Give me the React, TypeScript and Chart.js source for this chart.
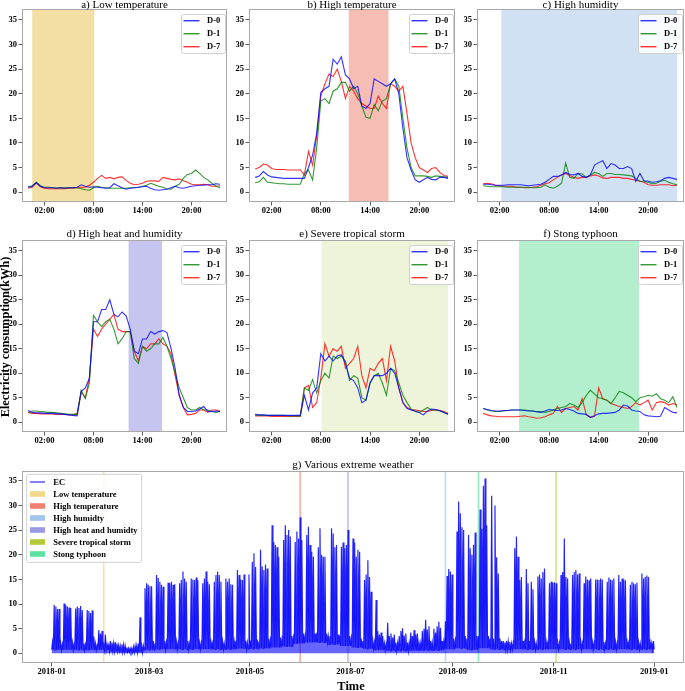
import React, { useEffect, useRef } from "react";
import { Chart, registerables } from "chart.js";

Chart.register(...registerables);

// ---------------- data: small panels (half-hour samples) ----------------
const HOURS: number[] = Array.from({ length: 48 }, (_, i) => i * 0.5);
const HOUR_TICKS = [2, 8, 14, 20];
const Y_TICKS = [0, 5, 10, 15, 20, 25, 30, 35];
const SERIES_LABELS = ["D-0", "D-1", "D-7"];

const A_D0 = [1.0,1.2,1.9,1.2,0.9,0.9,0.9,0.8,0.9,0.8,0.9,0.9, 1.0,1.5,1.2,1.0,1.1,1.0,0.9,0.8,0.9,1.7,1.3,0.9, 0.6,0.8,0.9,1.0,1.1,1.2,0.8,0.5,0.4,0.5,0.6,0.9, 1.2,0.9,0.8,1.0,1.2,1.3,1.4,1.4,1.5,1.5,1.7,1.6];
const A_D1 = [1.1,1.3,2.0,1.3,1.0,1.0,0.9,0.9,0.9,0.9,0.9,0.9, 0.9,0.7,0.5,0.4,0.9,1.2,1.0,0.9,0.8,0.8,0.8,0.8, 0.8,0.9,0.9,1.0,1.2,1.4,1.8,1.5,1.2,1.0,0.7,0.6, 1.2,1.6,2.8,3.6,3.8,4.5,3.8,3.0,2.5,1.8,1.2,0.9];
const A_D7 = [0.8,1.0,1.9,1.1,0.8,0.7,0.7,0.7,0.7,0.7,0.8,0.8, 0.9,1.0,1.0,1.4,2.0,2.8,3.4,2.8,3.0,2.7,3.0,3.1, 2.4,1.8,1.5,1.6,1.8,2.2,2.3,2.3,2.2,3.0,2.8,2.6, 2.5,2.7,2.3,2.0,1.6,1.5,1.5,1.6,1.5,1.2,1.2,1.3];

const B_D0 = [3.0,3.3,4.2,3.5,3.1,3.0,2.9,2.8,2.8,2.8,2.8,2.8, 2.8,5.0,7.5,12.0,20.3,21.0,21.5,27.0,26.0,27.5,23.8,23.0, 21.0,21.5,17.5,17.0,18.0,23.0,22.5,22.0,21.5,22.0,23.0,20.0, 13.0,7.0,4.5,2.5,2.0,2.5,3.0,2.6,2.5,3.0,3.0,2.8];
const B_D1 = [1.9,2.1,3.0,2.0,1.9,1.8,1.7,1.7,1.6,1.6,1.6,1.6, 3.8,4.5,2.5,9.0,18.5,19.0,18.0,20.5,21.0,22.3,22.3,20.5, 21.5,20.0,17.5,15.2,15.0,17.8,16.5,18.5,19.0,22.0,23.0,21.5, 15.0,9.0,5.0,3.3,3.3,3.3,3.2,3.0,3.3,3.2,3.1,3.0];
const B_D7 = [4.7,5.0,5.7,5.5,4.8,4.6,4.6,4.6,4.5,4.5,4.5,4.5, 3.5,8.3,5.5,11.5,19.5,22.0,24.0,23.5,25.0,22.5,19.0,21.5, 20.5,19.0,18.0,17.5,17.0,17.0,19.5,18.0,17.0,22.0,21.5,20.5, 21.5,16.0,10.0,7.0,5.0,4.5,4.0,4.8,5.0,4.0,3.4,3.2];

const C_D0 = [1.6,1.6,1.5,1.4,1.4,1.4,1.5,1.5,1.5,1.5,1.4,1.3, 1.4,1.5,1.6,2.0,2.6,3.2,3.2,3.5,4.0,3.6,3.5,3.8, 3.2,3.0,3.5,5.5,6.0,6.4,4.8,5.8,5.5,4.8,4.8,5.2, 4.8,2.2,3.8,2.3,2.2,2.0,2.1,2.3,2.8,3.0,2.8,2.6];
const C_D1 = [1.3,1.2,1.1,1.1,1.1,1.1,1.0,1.0,1.0,1.0,1.0,1.0, 0.9,0.9,1.0,1.5,1.0,0.8,1.2,1.8,5.9,3.0,2.8,3.8, 3.7,3.0,3.5,4.0,3.8,3.2,3.8,3.8,3.6,3.6,3.5,3.4, 3.3,2.8,2.2,2.2,2.0,1.7,1.8,2.2,2.4,2.0,1.7,1.5];
const C_D7 = [1.7,1.8,1.7,1.4,1.3,1.2,1.2,1.2,1.0,1.0,0.9,0.9, 1.0,1.1,1.4,1.7,1.9,2.5,3.0,3.5,3.8,3.4,3.0,2.8, 3.0,3.0,3.3,3.5,3.3,2.9,2.8,3.0,3.0,3.0,2.8,2.8, 2.6,2.4,2.2,2.0,1.5,1.4,1.4,1.5,1.5,1.5,1.3,1.4];

const D_D0 = [2.4,2.0,1.9,1.9,1.8,1.8,1.8,1.7,1.7,1.6,1.5,1.4, 1.3,6.3,7.0,9.0,20.5,20.5,23.0,23.0,25.0,22.0,21.5,22.5, 21.7,19.0,14.5,14.0,17.0,17.0,18.5,18.0,18.5,18.7,18.3,15.0, 11.0,5.5,3.0,2.2,2.2,2.3,2.7,3.2,2.2,2.2,2.3,2.2];
const D_D1 = [2.0,2.3,2.3,2.2,2.1,2.0,2.0,1.9,1.8,1.7,1.6,1.6, 1.6,6.5,4.8,8.0,21.8,20.5,19.5,20.5,21.0,19.0,16.0,17.0, 18.5,18.5,13.0,12.0,15.5,14.5,15.0,16.0,16.0,17.3,15.5,13.0, 10.0,7.0,5.0,3.0,2.5,2.5,3.0,2.5,2.5,2.2,2.0,2.2];
const D_D7 = [2.0,1.8,1.8,1.7,1.7,1.7,1.7,1.6,1.6,1.6,1.5,1.5, 1.8,6.2,5.0,9.0,19.0,17.5,19.0,20.0,21.0,22.0,19.0,18.5, 18.5,18.5,14.5,12.5,15.5,15.0,16.0,16.0,17.0,16.0,15.5,14.0, 9.5,5.5,3.0,1.5,1.6,1.8,2.5,2.5,2.0,2.5,2.5,2.3];

const E_D0 = [1.6,1.5,1.5,1.4,1.4,1.4,1.4,1.4,1.4,1.4,1.4,1.4, 5.5,2.5,6.0,7.0,14.0,12.5,13.5,12.5,13.5,13.8,12.0,9.0, 8.5,7.0,4.0,4.5,8.0,9.5,9.5,9.5,10.0,11.0,10.0,7.0, 4.0,2.8,2.5,2.3,2.0,1.5,2.3,2.7,2.6,2.4,2.0,1.6];
const E_D1 = [1.5,1.4,1.4,1.4,1.4,1.4,1.4,1.4,1.3,1.3,1.3,1.3, 7.0,6.5,8.7,6.0,8.5,10.0,9.0,13.5,13.0,13.5,12.5,8.5, 9.5,9.0,5.0,4.5,8.0,9.5,10.0,8.0,5.5,11.0,10.5,8.0, 5.5,4.0,2.7,2.2,2.0,2.5,3.0,2.5,2.5,2.3,2.0,1.6];
const E_D7 = [1.3,1.3,1.3,1.3,1.2,1.2,1.2,1.2,1.2,1.2,1.2,1.2, 7.0,7.5,3.0,4.0,9.0,16.0,13.5,15.0,14.5,15.5,11.0,12.0, 13.0,15.5,9.5,7.0,11.0,10.5,12.0,13.0,8.5,15.5,12.5,7.0, 4.0,3.0,2.6,2.5,2.4,2.2,2.2,2.4,2.5,2.4,2.2,1.8];

const F_D0 = [2.8,2.6,2.4,2.3,2.3,2.4,2.4,2.5,2.5,2.5,2.4,2.3, 2.3,2.1,2.0,2.3,2.6,2.5,2.4,2.5,2.8,2.6,2.3,1.8, 1.7,1.6,1.0,1.3,1.7,1.8,1.8,1.9,2.0,2.5,3.5,3.3, 2.5,2.3,2.2,1.5,1.3,1.2,1.1,1.2,3.0,2.5,2.0,1.9];
const F_D1 = [2.8,2.5,2.3,2.2,2.2,2.3,2.4,2.5,2.5,2.5,2.5,2.4, 2.3,2.2,2.2,2.0,2.2,2.5,2.8,3.0,3.2,3.8,3.5,3.0, 4.0,5.5,6.5,5.8,5.0,4.8,4.5,3.8,5.0,6.3,6.0,5.5, 5.0,4.2,5.0,5.2,5.5,5.3,5.8,4.8,4.5,4.0,5.2,3.0];
const F_D7 = [1.8,1.5,1.3,1.2,1.1,1.1,1.1,1.1,1.1,1.2,1.3,1.1, 1.0,0.8,0.9,1.1,1.5,1.8,3.2,2.0,2.8,3.0,3.2,2.5, 4.8,1.5,1.0,1.2,7.0,4.8,4.5,3.8,3.5,3.2,3.0,2.8, 3.2,4.0,3.5,4.0,4.5,2.5,4.0,4.2,4.0,3.5,3.8,3.5];

const PANEL_TITLES = [
  "a) Low temperature",
  "b) High temperature",
  "c) High humidity",
  "d) High heat and humidity",
  "e) Severe tropical storm",
  "f) Stong typhoon",
];
const PANEL_SERIES = [
  [A_D0, A_D1, A_D7],
  [B_D0, B_D1, B_D7],
  [C_D0, C_D1, C_D7],
  [D_D0, D_D1, D_D7],
  [E_D0, E_D1, E_D7],
  [F_D0, F_D1, F_D7],
];
const PANEL_SPAN_FROM = [0.5, 11.4, 2.2, 12.3, 8.1, 4.35];
const PANEL_SPAN_TO = [8.1, 16.25, 23.5, 16.4, 23.5, 18.9];

// ---------------- data: g) whole year (daily min / daily peak) ----------------
const EVENT_NAMES = [
  "Low temperature",
  "High temperature",
  "High humidty",
  "High heat and humidty",
  "Severe tropical storm",
  "Stong typhoon",
];
const EVENT_DAYS = [31, 150, 238, 179, 305, 258];
const MONTH_TICK_DAYS = [0, 59, 120, 181, 243, 304, 365];
const MONTH_TICK_LABELS = ["2018-01", "2018-03", "2018-05", "2018-07", "2018-09", "2018-11", "2019-01"];

const WEEK_BASE = [
  0.7, 0.7, 0.7, 0.7, 0.7, 0.5, 0.3, 0.2,
  0.7, 0.8, 0.8, 0.8, 0.8,
  0.8, 0.8, 0.8, 0.9, 0.9,
  1.0, 1.2, 1.4,
  2.0, 2.2, 2.2, 1.8, 1.5,
  1.2, 0.9,
  0.6, 0.5, 0.5, 0.5, 0.6, 0.6,
  0.8, 1.0, 0.7, 1.0, 0.8,
  0.8,
  0.8, 0.8, 0.8, 0.8, 0.8, 0.8, 0.8, 0.8, 0.8, 0.8, 0.8, 0.8, 0.8,
];

const DAILY_PEAK = [
  2.3, 9.8, 9.5, 9.0, 9.0, 2.0, 1.8,
  10.1, 9.8, 9.5, 9.3, 9.2, 2.2, 1.8,
  9.1, 9.5, 9.2, 9.6, 8.8, 2.0, 1.8,
  8.8, 8.6, 8.2, 8.7, 3.4, 2.0, 1.6,
  4.7, 4.0, 4.5, 1.7, 3.8, 1.8, 1.6,
  2.5, 2.2, 2.0, 2.3, 2.0, 1.6, 1.5,
  1.8, 1.7, 1.5, 1.2, 1.0, 1.0, 1.0,
  1.3, 1.5, 1.5, 2.0, 7.3, 1.5, 1.6,
  13.2, 14.2, 13.9, 13.6, 13.6, 2.5, 2.0,
  15.9, 15.3, 14.5, 13.9, 13.5, 2.5, 2.2,
  14.3, 14.2, 14.5, 13.9, 14.0, 2.4, 2.0,
  14.2, 14.9, 16.6, 15.2, 14.5, 2.5, 2.0,
  15.2, 15.0, 14.9, 15.4, 14.8, 2.2, 2.0,
  14.2, 15.2, 16.6, 14.5, 14.0, 2.2, 2.0,
  14.5, 15.9, 16.6, 15.9, 14.5, 2.4, 2.0,
  15.2, 14.5, 15.2, 14.0, 13.9, 2.4, 2.0,
  16.9, 15.9, 15.0, 14.9, 16.0, 2.6, 2.2,
  16.0, 2.6, 18.6, 20.3, 17.5, 2.8, 2.4,
  21.0, 17.6, 16.9, 18.0, 17.2, 3.0, 2.6,
  26.0, 22.6, 22.0, 21.5, 19.6, 3.2, 2.8,
  23.0, 26.0, 24.0, 25.0, 23.7, 3.5, 3.2,
  22.6, 24.7, 23.3, 27.6, 23.0, 4.0, 3.5,
  24.0, 25.7, 22.0, 20.6, 19.6, 4.0, 3.5,
  21.5, 25.4, 20.0, 19.6, 19.6, 4.0, 3.5,
  3.5, 25.4, 24.3, 21.5, 22.0, 3.8, 3.5,
  21.6, 22.5, 21.3, 22.0, 25.0, 3.5, 3.0,
  23.3, 22.5, 19.6, 21.0, 20.6, 3.0, 2.5,
  14.9, 16.0, 18.9, 15.5, 12.5, 2.5, 2.2,
  10.8, 4.5, 3.8, 4.2, 3.5, 2.0, 1.8,
  6.2, 3.5, 4.0, 3.2, 3.8, 2.2, 2.0,
  3.5, 4.5, 5.1, 3.6, 4.0, 2.2, 2.0,
  4.2, 3.5, 4.7, 3.8, 4.0, 2.0, 2.0,
  4.5, 5.0, 6.8, 4.8, 5.5, 2.5, 2.2,
  5.0, 4.2, 5.5, 6.4, 5.2, 2.5, 2.3,
  6.5, 15.7, 17.1, 16.6, 16.0, 3.0, 2.5,
  24.7, 30.8, 28.4, 25.6, 25.0, 3.5, 3.0,
  24.0, 21.3, 20.0, 22.0, 24.5, 3.5, 3.5,
  29.2, 25.3, 34.0, 35.5, 26.0, 3.5, 3.0,
  32.0, 3.0, 30.0, 19.5, 16.2, 3.0, 2.5,
  2.5, 2.2, 2.5, 2.4, 2.3, 2.0, 2.0,
  21.3, 23.7, 19.6, 14.9, 15.5, 2.5, 2.2,
  17.1, 14.2, 2.5, 14.5, 13.0, 2.3, 2.0,
  15.6, 16.0, 15.2, 16.5, 17.2, 2.3, 2.0,
  14.2, 14.5, 14.3, 14.4, 14.2, 2.2, 2.0,
  15.9, 16.5, 23.3, 15.5, 15.2, 2.3, 2.0,
  15.9, 16.5, 16.9, 16.0, 16.2, 2.3, 2.0,
  14.2, 15.6, 15.0, 14.8, 15.2, 2.3, 2.0,
  15.0, 15.0, 14.9, 15.2, 15.0, 2.3, 2.0,
  14.5, 15.4, 15.0, 14.8, 15.2, 2.3, 2.0,
  15.9, 14.5, 15.2, 15.0, 14.8, 2.3, 2.0,
  13.9, 14.5, 14.2, 14.0, 14.3, 2.2, 2.0,
  16.2, 15.2, 15.5, 15.8, 15.5, 2.2, 2.0,
  2.5,
];

// ---------------- styles / layout ----------------
const SERIF = '"Liberation Serif", "DejaVu Serif", serif';
const SERIES_COLORS = ["rgba(0,0,255,0.8)", "rgba(0,128,0,0.8)", "rgba(255,0,0,0.8)"];
const PANEL_SPAN_COLORS = ["#f3dea3", "#f6bdb5", "#cfe1f2", "#c5c5f0", "#eef4da", "#b3efcc"];
const EVENT_COLORS = ["#f2d88a", "#f08070", "#a0c4ea", "#9898e6", "#b5c93a", "#5ee0a0"];
const EVENT_LINE_COLORS = [
  "rgba(238,204,110,0.6)",
  "rgba(240,120,105,0.6)",
  "rgba(150,190,230,0.6)",
  "rgba(150,150,225,0.6)",
  "rgba(185,205,60,0.6)",
  "rgba(80,220,150,0.6)",
];
const EC_COLOR = "rgba(0,0,255,0.85)";
const EC_FILL = "rgba(0,0,255,0.6)";

const PAD_L = 22;
const PAD_T = 12;
const PAD_R = 2;
const TICK_FONT = { family: SERIF, size: 8.5, weight: "bold" as const };

type Box = { l: number; t: number; r: number; b: number };
const PANEL_BOXES: Box[] = [
  { l: 22, t: 9, r: 227, b: 202 },
  { l: 249, t: 9, r: 455, b: 202 },
  { l: 477, t: 9, r: 684, b: 202 },
  { l: 22, t: 240, r: 227, b: 432 },
  { l: 249, t: 240, r: 455, b: 432 },
  { l: 477, t: 240, r: 684, b: 432 },
];
const PANEL_TITLE_GAP = [1.4, 1.4, 1.4, 2.7, 2.7, 2.7];
const G_BOX: Box = { l: 22, t: 471, r: 684, b: 663 };

function hourLabel(v: number) {
  return String(v).padStart(2, "0") + ":00";
}

function tickGrid() {
  return {
    display: true,
    drawOnChartArea: false,
    drawTicks: true,
    tickLength: 3.5,
    color: "#333",
    lineWidth: 0.8,
  };
}

function drawFrame(chart: any) {
  const { ctx, chartArea: a } = chart;
  ctx.save();
  ctx.strokeStyle = "#a8a8a8";
  ctx.lineWidth = 1;
  ctx.strokeRect(Math.round(a.left) + 0.5, Math.round(a.top) + 0.5, Math.round(a.right - a.left) - 1, Math.round(a.bottom - a.top) - 1);
  ctx.restore();
}

function roundBox(ctx: CanvasRenderingContext2D, x: number, y: number, w: number, h: number, r: number) {
  ctx.beginPath();
  ctx.moveTo(x + r, y);
  ctx.lineTo(x + w - r, y);
  ctx.arcTo(x + w, y, x + w, y + r, r);
  ctx.lineTo(x + w, y + h - r);
  ctx.arcTo(x + w, y + h, x + w - r, y + h, r);
  ctx.lineTo(x + r, y + h);
  ctx.arcTo(x, y + h, x, y + h - r, r);
  ctx.lineTo(x, y + r);
  ctx.arcTo(x, y, x + r, y, r);
  ctx.closePath();
}

function drawTitle(chart: any, text: string, gap: number, size: number) {
  const { ctx, chartArea: a } = chart;
  ctx.save();
  ctx.fillStyle = "#000";
  ctx.font = `${size}px ${SERIF}`;
  ctx.textAlign = "center";
  ctx.textBaseline = "alphabetic";
  ctx.fillText(text, (a.left + a.right) / 2, a.top - gap);
  ctx.restore();
}

function makePanelConfig(idx: number): any {
  const series = PANEL_SERIES[idx];
  const datasets = series.map((vals, k) => ({
    label: SERIES_LABELS[k],
    data: vals.map((v, i) => ({ x: HOURS[i], y: v })),
    borderColor: SERIES_COLORS[k],
    borderWidth: 1.1,
    pointRadius: 0,
    tension: 0,
    fill: false,
  }));
  const decor = {
    id: "decor" + idx,
    beforeDatasetsDraw(chart: any) {
      const { ctx, chartArea: a, scales } = chart;
      const x0 = Math.max(a.left, scales.x.getPixelForValue(PANEL_SPAN_FROM[idx]));
      const x1 = Math.min(a.right, scales.x.getPixelForValue(PANEL_SPAN_TO[idx]));
      ctx.save();
      ctx.fillStyle = PANEL_SPAN_COLORS[idx];
      ctx.fillRect(x0, a.top, x1 - x0, a.bottom - a.top);
      ctx.restore();
    },
    afterDatasetsDraw(chart: any) {
      drawFrame(chart);
    },
    afterDraw(chart: any) {
      const { ctx, chartArea: a } = chart;
      drawTitle(chart, PANEL_TITLES[idx], PANEL_TITLE_GAP[idx], 11);
      // legend
      const w = 44;
      const h = 39;
      const bx = a.right - 2 - w;
      const by = a.top + 5;
      ctx.save();
      roundBox(ctx, bx + 0.5, by + 0.5, w, h, 2);
      ctx.fillStyle = "rgba(255,255,255,0.85)";
      ctx.fill();
      ctx.strokeStyle = "#d0d0d0";
      ctx.lineWidth = 1;
      ctx.stroke();
      ctx.font = `bold 8.5px ${SERIF}`;
      ctx.textBaseline = "middle";
      ctx.textAlign = "left";
      SERIES_LABELS.forEach((lab, k) => {
        const yy = by + 6.7 + 13 * k;
        ctx.strokeStyle = SERIES_COLORS[k];
        ctx.lineWidth = 1.4;
        ctx.beginPath();
        ctx.moveTo(bx + 2.5, yy);
        ctx.lineTo(bx + 18.5, yy);
        ctx.stroke();
        ctx.fillStyle = "#000";
        ctx.fillText(lab, bx + 26, yy + 0.5);
      });
      // figure-level y label, drawn beside panel d
      if (idx === 3) {
        ctx.save();
        ctx.translate(8.8, 337 - (PANEL_BOXES[3].t - PAD_T));
        ctx.rotate(-Math.PI / 2);
        ctx.font = `bold 12.4px ${SERIF}`;
        ctx.textAlign = "center";
        ctx.textBaseline = "alphabetic";
        ctx.fillStyle = "#000";
        ctx.fillText("Electricity consumption(kWh)", 0, 0);
        ctx.restore();
      }
      ctx.restore();
    },
  };
  return {
    type: "line",
    data: { datasets },
    options: {
      responsive: false,
      animation: false,
      events: [],
      layout: { padding: { left: 0, top: PAD_T, right: PAD_R, bottom: 0 } },
      plugins: { legend: { display: false }, tooltip: { enabled: false }, title: { display: false } },
      scales: {
        x: {
          type: "linear",
          min: -0.75,
          max: 24.35,
          afterBuildTicks: (s: any) => {
            s.ticks = HOUR_TICKS.map((v) => ({ value: v }));
          },
          afterFit: (s: any) => {
            s.height = 24;
          },
          ticks: {
            font: TICK_FONT,
            color: "#000",
            padding: 0.5,
            maxRotation: 0,
            autoSkip: false,
            callback: (v: any) => hourLabel(Number(v)),
          },
          grid: tickGrid(),
          border: { display: false },
        },
        y: {
          type: "linear",
          min: -2.0,
          max: 37.2,
          afterBuildTicks: (s: any) => {
            s.ticks = Y_TICKS.map((v) => ({ value: v }));
          },
          afterFit: (s: any) => {
            s.width = PAD_L;
          },
          ticks: { font: TICK_FONT, color: "#000", padding: 1.5, autoSkip: false },
          grid: tickGrid(),
          border: { display: false },
        },
      },
    },
    plugins: [decor],
  };
}

function makeYearConfig(): any {
  const pts: { x: number; y: number }[] = [];
  DAILY_PEAK.forEach((peak, d) => {
    const base = WEEK_BASE[Math.floor(d / 7)];
    pts.push({ x: d, y: base });
    pts.push({ x: d + 0.5, y: peak });
  });
  pts.push({ x: 364.95, y: WEEK_BASE[WEEK_BASE.length - 1] });

  const decor = {
    id: "decorYear",
    beforeDatasetsDraw(chart: any) {
      const { ctx, chartArea: a, scales } = chart;
      ctx.save();
      EVENT_DAYS.forEach((d, i) => {
        const x0 = scales.x.getPixelForValue(d);
        const x1 = scales.x.getPixelForValue(d + 1);
        ctx.fillStyle = EVENT_LINE_COLORS[i];
        ctx.fillRect(x0, a.top, Math.max(1.2, x1 - x0), a.bottom - a.top);
      });
      ctx.restore();
    },
    afterDatasetsDraw(chart: any) {
      drawFrame(chart);
    },
    afterDraw(chart: any) {
      const { ctx, chartArea: a } = chart;
      drawTitle(chart, "g) Various extreme weather", 3.4, 11);
      // legend
      const bx = a.left + 4.7;
      const by = a.top + 3.3;
      const w = 115;
      const h = 88;
      ctx.save();
      roundBox(ctx, bx, by, w, h, 2);
      ctx.fillStyle = "rgba(255,255,255,0.85)";
      ctx.fill();
      ctx.strokeStyle = "#d0d0d0";
      ctx.lineWidth = 1;
      ctx.stroke();
      ctx.font = `bold 8.5px ${SERIF}`;
      ctx.textBaseline = "middle";
      ctx.textAlign = "left";
      const labels = ["EC", ...EVENT_NAMES];
      labels.forEach((lab, k) => {
        const yy = by + 7.7 + 12 * k;
        if (k === 0) {
          ctx.strokeStyle = "rgba(0,0,255,0.7)";
          ctx.lineWidth = 1.4;
          ctx.beginPath();
          ctx.moveTo(bx + 3.3, yy);
          ctx.lineTo(bx + 18.3, yy);
          ctx.stroke();
        } else {
          ctx.fillStyle = EVENT_COLORS[k - 1];
          ctx.fillRect(bx + 3.3, yy - 2.8, 15, 5.6);
        }
        ctx.fillStyle = "#000";
        ctx.fillText(lab, bx + 26.6, yy + 0.5);
      });
      // x axis label
      ctx.font = `bold 12.4px ${SERIF}`;
      ctx.textAlign = "center";
      ctx.textBaseline = "alphabetic";
      ctx.fillText("Time", (a.left + a.right) / 2 - 2, 690 - (G_BOX.t - PAD_T));
      ctx.restore();
    },
  };

  return {
    type: "line",
    data: {
      datasets: [
        {
          label: "EC",
          data: pts,
          borderColor: EC_COLOR,
          backgroundColor: EC_FILL,
          borderWidth: 1.2,
          pointRadius: 0,
          tension: 0,
          fill: "origin",
        },
      ],
    },
    options: {
      responsive: false,
      animation: false,
      events: [],
      layout: { padding: { left: 0, top: PAD_T, right: PAD_R, bottom: 0 } },
      plugins: {
        legend: { display: false },
        tooltip: { enabled: false },
        title: { display: false },
        filler: { propagate: false },
      },
      scales: {
        x: {
          type: "linear",
          min: -18,
          max: 383,
          afterBuildTicks: (s: any) => {
            s.ticks = MONTH_TICK_DAYS.map((v) => ({ value: v }));
          },
          afterFit: (s: any) => {
            s.height = 32;
          },
          ticks: {
            font: TICK_FONT,
            color: "#000",
            padding: 0,
            maxRotation: 0,
            autoSkip: false,
            callback: (_v: any, i: number) => MONTH_TICK_LABELS[i],
          },
          grid: tickGrid(),
          border: { display: false },
        },
        y: {
          type: "linear",
          min: -1.97,
          max: 37.0,
          afterBuildTicks: (s: any) => {
            s.ticks = Y_TICKS.map((v) => ({ value: v }));
          },
          afterFit: (s: any) => {
            s.width = PAD_L;
          },
          ticks: { font: TICK_FONT, color: "#000", padding: 1.5, autoSkip: false },
          grid: tickGrid(),
          border: { display: false },
        },
      },
    },
    plugins: [decor],
  };
}

function ChartCanvas(props: { box: Box; bottomPad: number; make: () => any }) {
  const ref = useRef<HTMLCanvasElement | null>(null);
  const { box, bottomPad, make } = props;
  const left = box.l - PAD_L;
  const top = box.t - PAD_T;
  const width = box.r - box.l + PAD_L + PAD_R;
  const height = box.b - box.t + PAD_T + bottomPad;
  useEffect(() => {
    if (!ref.current) return;
    const chart = new Chart(ref.current, make());
    return () => chart.destroy();
  }, []);
  return (
    <canvas
      ref={ref}
      width={width}
      height={height}
      style={{ position: "absolute", left, top, width, height }}
    />
  );
}

export default function App() {
  return (
    <div
      style={{
        position: "absolute",
        left: 0,
        top: 0,
        width: 685,
        height: 691,
        overflow: "hidden",
        background: "#fff",
      }}
    >
      {PANEL_BOXES.map((b, i) => (
        <ChartCanvas key={i} box={b} bottomPad={24} make={() => makePanelConfig(i)} />
      ))}
      <ChartCanvas box={G_BOX} bottomPad={32} make={makeYearConfig} />
    </div>
  );
}
